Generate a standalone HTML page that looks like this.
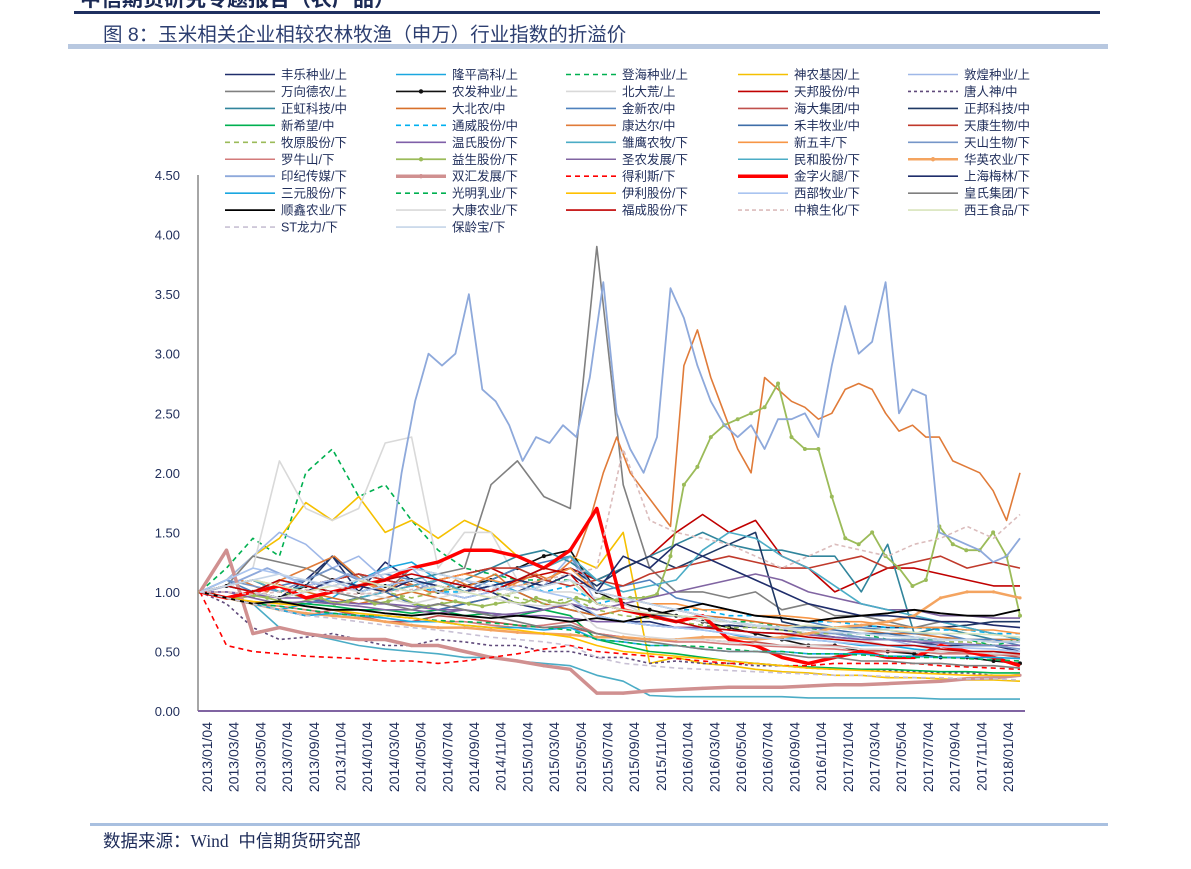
<!DOCTYPE html>
<html><head><meta charset="utf-8">
<style>
body{margin:0;background:#fff;}
#wrap{position:relative;width:1191px;height:869px;overflow:hidden;background:#fff;font-family:"Liberation Sans","Noto Sans CJK SC",sans-serif;}
.hdr{position:absolute;left:80px;top:-17px;font-size:21px;font-weight:bold;color:#1b2a55;}
.title{position:absolute;left:103px;top:18px;font-size:19.5px;color:#2c3e70;}
.src{position:absolute;left:103px;top:828px;font-size:17.5px;color:#1f2d5a;}
</style></head><body>
<div id="wrap">
<div class="hdr">中信期货研究专题报告（农产品）</div>
<div style="position:absolute;left:74px;top:11px;width:1026px;height:3px;background:#1f3060"></div>
<div class="title">图 8：玉米相关企业相较农林牧渔（申万）行业指数的折溢价</div>
<div style="position:absolute;left:68px;top:44px;width:1040px;height:5px;background:#b8c8e0"></div>
<svg id="chart" width="1191" height="869" style="position:absolute;left:0;top:0"></svg>
<div style="position:absolute;left:90px;top:823px;width:1018px;height:3px;background:#a9c0e0"></div>
<div class="src">数据来源：<span style="font-family:'Liberation Serif',serif">Wind</span>&nbsp; 中信期货研究部</div>
</div>
<script>
// ---- data (values spread evenly over 2013/01 .. 2018/02) ----
const yTicks=[0,0.5,1,1.5,2,2.5,3,3.5,4,4.5];
const xTickLabels=["2013/01/04","2013/03/04","2013/05/04","2013/07/04","2013/09/04","2013/11/04","2014/01/04","2014/03/04","2014/05/04","2014/07/04","2014/09/04","2014/11/04","2015/01/04","2015/03/04","2015/05/04","2015/07/04","2015/09/04","2015/11/04","2016/01/04","2016/03/04","2016/05/04","2016/07/04","2016/09/04","2016/11/04","2017/01/04","2017/03/04","2017/05/04","2017/07/04","2017/09/04","2017/11/04","2018/01/04"];
const seriesNames=["丰乐种业/上","隆平高科/上","登海种业/上","神农基因/上","敦煌种业/上","万向德农/上","农发种业/上","北大荒/上","天邦股份/中","唐人神/中","正虹科技/中","大北农/中","金新农/中","海大集团/中","正邦科技/中","新希望/中","通威股份/中","康达尔/中","禾丰牧业/中","天康生物/中","牧原股份/下","温氏股份/下","雏鹰农牧/下","新五丰/下","天山生物/下","罗牛山/下","益生股份/下","圣农发展/下","民和股份/下","华英农业/下","印纪传媒/下","双汇发展/下","得利斯/下","金字火腿/下","上海梅林/下","三元股份/下","光明乳业/下","伊利股份/下","西部牧业/下","皇氏集团/下","顺鑫农业/下","大康农业/下","福成股份/下","中粮生化/下","西王食品/下","ST龙力/下","保龄宝/下"];
const vFengle=[1.0,1.05,1.0,0.95,1.1,1.3,1.0,1.25,1.1,1.0,0.95,1.0,0.9,0.85,0.9,0.8,0.75,0.75,0.7,0.7,0.72,0.7,0.68,0.65,0.62,0.6,0.6,0.58,0.55,0.55,0.55,0.5];
const vLongping=[1.0,0.95,0.9,0.85,0.9,0.95,1.1,1.2,1.25,1.1,1.05,1.1,1.0,0.9,0.85,0.8,0.75,0.72,0.7,0.68,0.65,0.6,0.62,0.6,0.58,0.55,0.55,0.52,0.5,0.5,0.48,0.5];
const vDenghai=[1.0,1.2,1.45,1.3,2.0,2.2,1.8,1.9,1.6,1.35,1.2,1.15,1.1,1.1,1.1,0.9,0.85,0.8,0.85,0.8,0.75,0.75,0.7,0.7,0.65,0.65,0.6,0.6,0.6,0.6,0.55,0.6];
const vShennong=[1.0,1.1,1.3,1.45,1.75,1.6,1.8,1.5,1.6,1.45,1.6,1.5,1.3,1.2,1.3,1.2,1.5,0.4,0.45,0.4,0.38,0.35,0.33,0.32,0.3,0.3,0.28,0.28,0.27,0.26,0.26,0.25];
const vDunhuang=[1.0,1.1,1.3,1.5,1.4,1.2,1.3,1.1,1.2,1.0,1.1,1.0,1.1,1.05,1.3,0.9,0.85,0.8,0.75,0.8,0.75,0.7,0.7,0.65,0.65,0.6,0.6,0.55,0.55,0.5,0.5,0.5];
const vWanxiang=[1.0,1.05,1.3,1.25,1.2,1.1,1.15,1.0,1.2,1.15,1.2,1.9,2.1,1.8,1.7,3.9,1.9,1.2,1.0,1.0,0.95,1.0,0.85,0.9,0.8,0.8,0.75,0.7,0.75,0.7,0.65,0.6];
const vNongfa=[1.0,1.05,1.0,0.95,1.05,1.1,1.0,1.05,1.1,1.0,1.05,1.1,1.2,1.3,1.35,1.0,0.9,0.85,0.8,0.75,0.7,0.65,0.6,0.55,0.55,0.5,0.5,0.48,0.45,0.45,0.42,0.4];
const vBeidahuang=[1.0,1.1,1.2,2.1,1.7,1.6,1.7,2.25,2.3,1.2,1.5,1.5,1.1,1.0,1.0,0.95,0.9,0.8,0.8,0.75,0.75,0.7,0.7,0.65,0.6,0.6,0.55,0.55,0.5,0.5,0.5,0.5];
const vTianbang=[1.0,1.05,1.1,1.0,1.05,1.1,1.15,1.1,1.05,1.1,1.15,1.2,1.1,1.15,1.2,1.1,1.2,1.3,1.5,1.65,1.5,1.6,1.3,1.2,1.0,1.1,1.2,1.2,1.15,1.1,1.05,1.05];
const vTangrenshen=[1.0,0.9,0.7,0.6,0.62,0.65,0.6,0.55,0.55,0.6,0.58,0.55,0.55,0.5,0.5,0.45,0.45,0.4,0.42,0.4,0.4,0.38,0.38,0.36,0.35,0.35,0.34,0.33,0.32,0.32,0.3,0.3];
const vZhenghong=[1.0,1.05,1.1,1.0,1.05,1.1,1.0,1.05,1.1,1.15,1.1,1.2,1.3,1.35,1.25,1.1,1.2,1.3,1.4,1.5,1.4,1.35,1.35,1.3,1.3,1.0,1.4,0.65,0.7,0.65,0.6,0.6];
const vDabeinong=[1.0,0.95,1.0,1.05,1.0,0.95,0.9,0.95,1.0,0.95,0.9,0.95,1.0,0.9,0.85,0.8,0.85,0.8,0.85,0.8,0.78,0.75,0.72,0.7,0.7,0.68,0.65,0.65,0.62,0.6,0.6,0.6];
const vJinxinnong=[1.0,1.1,1.0,1.05,1.1,1.2,1.1,1.15,1.1,1.05,1.0,1.1,1.2,1.25,1.3,1.0,1.05,1.1,0.95,0.9,0.85,0.8,0.78,0.75,0.7,0.7,0.68,0.65,0.65,0.6,0.6,0.55];
const vHaida=[1.0,0.95,0.9,0.85,0.8,0.85,0.8,0.75,0.75,0.8,0.78,0.75,0.72,0.7,0.7,0.65,0.62,0.6,0.6,0.6,0.58,0.58,0.55,0.55,0.55,0.52,0.5,0.5,0.5,0.48,0.48,0.45];
const vZhengbang=[1.0,1.05,1.1,1.0,1.05,1.3,1.1,1.0,1.05,1.1,1.0,1.05,1.0,1.1,1.2,1.05,1.2,1.3,1.2,1.3,1.4,1.5,0.75,0.7,0.7,0.72,0.7,0.7,0.7,0.72,0.75,0.75];
const vXinxiwang=[1.0,0.95,0.9,0.92,0.9,0.88,0.85,0.85,0.82,0.85,0.8,0.82,0.8,0.85,0.8,0.6,0.55,0.5,0.48,0.45,0.42,0.4,0.38,0.37,0.36,0.35,0.35,0.34,0.33,0.33,0.32,0.32];
const vTongwei=[1.0,1.05,1.0,1.1,1.05,1.0,1.05,1.1,1.05,1.0,1.0,1.05,1.1,1.0,1.05,0.9,0.95,0.9,0.85,0.85,0.8,0.8,0.78,0.75,0.75,0.72,0.7,0.7,0.68,0.68,0.65,0.65];
const vKangdaer=[1.0,1.02,1.05,1.1,1.05,1.0,1.1,1.15,1.2,1.25,1.3,1.2,1.1,1.05,1.0,1.1,1.05,1.0,1.0,1.1,1.05,1.1,1.15,1.05,1.1,1.15,1.1,1.2,1.3,1.6,2.0,2.3,2.0,1.85,1.7,1.55,2.9,3.2,2.8,2.5,2.2,2.0,2.8,2.7,2.6,2.55,2.45,2.5,2.7,2.75,2.7,2.5,2.35,2.4,2.3,2.3,2.1,2.05,2.0,1.85,1.6,2.0];
const vHefeng=[1.0,0.95,1.0,1.05,0.95,0.9,0.95,1.0,0.9,0.85,0.9,0.95,1.0,1.05,1.1,0.9,0.85,0.8,0.8,0.78,0.75,0.72,0.7,0.7,0.68,0.65,0.65,0.62,0.6,0.6,0.58,0.58];
const vTiankang=[1.0,1.05,1.1,1.0,1.05,1.1,1.15,1.1,1.05,1.1,1.15,1.2,1.2,1.1,1.05,1.1,1.05,1.15,1.2,1.25,1.3,1.25,1.2,1.2,1.25,1.3,1.2,1.25,1.3,1.2,1.25,1.2];
const vMuyuan=[1.0,1.05,1.1,1.0,0.95,1.0,1.05,1.0,0.95,1.0,1.05,1.0,0.95,0.9,0.95,0.85,0.8,0.78,0.75,0.72,0.7,0.7,0.68,0.65,0.65,0.62,0.6,0.6,0.58,0.58,0.55,0.55];
const vWenshi=[1.0,1.0,0.98,0.95,0.95,0.92,0.9,0.9,0.88,0.85,0.85,0.82,0.8,0.8,0.78,0.75,0.75,0.72,0.7,0.7,0.68,0.66,0.65,0.64,0.62,0.6,0.6,0.58,0.57,0.56,0.55,0.55];
const vChuying=[1.0,0.95,0.9,0.7,0.65,0.6,0.55,0.52,0.5,0.48,0.45,0.45,0.42,0.4,0.38,0.3,0.25,0.13,0.12,0.12,0.12,0.12,0.12,0.11,0.11,0.11,0.11,0.11,0.1,0.1,0.1,0.1];
const vXinwufeng=[1.0,1.05,1.1,1.05,1.0,1.05,1.1,1.0,1.05,1.1,1.15,1.1,1.05,1.1,1.2,1.0,0.95,0.9,0.9,0.85,0.85,0.8,0.8,0.78,0.75,0.75,0.72,0.7,0.7,0.68,0.68,0.65];
const vTianshan=[1.0,1.1,1.05,1.0,1.1,1.2,1.1,1.05,1.0,1.1,1.05,1.0,1.1,1.2,1.3,1.0,0.95,0.9,0.85,0.8,0.75,0.72,0.7,0.68,0.65,0.62,0.6,0.6,0.58,0.55,0.55,0.52];
const vLuoniushan=[1.0,0.95,0.9,0.88,0.85,0.82,0.8,0.8,0.78,0.75,0.75,0.72,0.7,0.72,0.75,0.65,0.62,0.6,0.58,0.58,0.56,0.55,0.54,0.53,0.52,0.5,0.5,0.5,0.48,0.48,0.47,0.47];
const vYisheng=[1.0,0.98,0.95,0.95,0.97,0.95,0.92,0.9,0.93,0.95,0.9,0.92,0.95,0.9,0.92,0.95,0.9,0.88,0.9,0.92,0.9,0.88,0.9,0.92,0.9,0.95,0.92,0.9,0.95,0.92,0.95,0.93,0.95,0.95,0.98,1.3,1.9,2.05,2.3,2.4,2.45,2.5,2.55,2.75,2.3,2.2,2.2,1.8,1.45,1.4,1.5,1.3,1.2,1.05,1.1,1.55,1.4,1.35,1.35,1.5,1.3,0.8];
const vShengnong=[1.0,1.0,0.95,0.9,0.92,0.9,0.88,0.85,0.85,0.82,0.85,0.8,0.82,0.85,0.9,0.85,0.9,0.95,1.0,1.05,1.1,1.15,1.1,1.0,0.95,0.9,0.85,0.85,0.8,0.8,0.78,0.78];
const vMinhe=[1.0,1.05,1.1,1.0,1.05,1.0,0.95,1.0,1.05,1.1,1.0,1.05,1.1,1.2,1.3,1.1,1.0,1.05,1.1,1.35,1.5,1.45,1.3,1.2,1.05,0.9,0.85,0.8,0.75,0.7,0.65,0.6];
const vHuaying=[1.0,0.95,0.9,0.85,0.82,0.8,0.78,0.75,0.72,0.7,0.7,0.68,0.66,0.65,0.64,0.62,0.62,0.6,0.6,0.62,0.62,0.6,0.62,0.65,0.7,0.72,0.75,0.8,0.95,1.0,1.0,0.95];
const vYinji=[1.0,1.02,1.05,1.1,1.15,1.2,1.15,1.1,1.1,1.05,1.1,1.15,1.1,1.15,1.2,2.0,2.6,3.0,2.9,3.0,3.5,2.7,2.6,2.4,2.1,2.3,2.25,2.4,2.3,2.8,3.6,2.5,2.2,2.0,2.3,3.55,3.3,2.9,2.6,2.4,2.3,2.4,2.2,2.45,2.45,2.5,2.3,2.9,3.4,3.0,3.1,3.6,2.5,2.7,2.65,1.5,1.45,1.4,1.35,1.25,1.3,1.45];
const vShuanghui=[1.0,1.35,0.65,0.7,0.65,0.62,0.6,0.6,0.55,0.55,0.5,0.45,0.42,0.38,0.35,0.15,0.15,0.17,0.18,0.19,0.2,0.2,0.2,0.21,0.22,0.22,0.23,0.24,0.25,0.27,0.28,0.3];
const vDelisi=[1.0,0.55,0.5,0.48,0.46,0.45,0.44,0.42,0.42,0.4,0.42,0.45,0.48,0.52,0.55,0.5,0.48,0.46,0.44,0.42,0.4,0.4,0.38,0.38,0.4,0.4,0.4,0.4,0.38,0.37,0.36,0.35];
const vJinzi=[1.0,0.95,1.0,1.05,0.95,1.0,1.05,1.1,1.2,1.25,1.35,1.35,1.3,1.2,1.35,1.7,0.85,0.8,0.75,0.8,0.6,0.55,0.45,0.4,0.45,0.5,0.45,0.45,0.55,0.5,0.45,0.38];
const vMeilin=[1.0,1.05,1.0,0.95,1.0,1.1,1.05,1.0,1.1,1.05,1.0,1.05,1.1,1.05,1.15,1.0,1.3,1.2,1.4,1.3,1.2,1.1,1.0,0.9,0.85,0.8,0.8,0.78,0.75,0.75,0.72,0.7];
const vSanyuan=[1.0,0.95,0.9,0.85,0.8,0.82,0.8,0.78,0.75,0.75,0.72,0.7,0.7,0.68,0.7,0.6,0.58,0.55,0.55,0.52,0.5,0.5,0.5,0.48,0.48,0.48,0.46,0.46,0.45,0.45,0.45,0.44];
const vGuangming=[1.0,0.95,0.9,0.88,0.85,0.82,0.8,0.8,0.78,0.76,0.75,0.74,0.72,0.7,0.68,0.6,0.58,0.55,0.55,0.54,0.52,0.5,0.5,0.48,0.48,0.47,0.46,0.45,0.45,0.44,0.43,0.42];
const vYili=[1.0,0.95,0.92,0.9,0.88,0.85,0.82,0.8,0.78,0.75,0.72,0.7,0.68,0.65,0.62,0.55,0.5,0.48,0.46,0.44,0.42,0.4,0.38,0.36,0.35,0.34,0.33,0.32,0.31,0.3,0.3,0.3];
const vXibu=[1.0,1.1,1.2,1.15,1.05,1.1,1.0,1.05,1.1,1.0,0.95,1.0,1.05,1.0,0.95,0.8,0.75,0.72,0.7,0.68,0.65,0.62,0.6,0.6,0.58,0.56,0.55,0.55,0.54,0.53,0.52,0.5];
const vHuangshi=[1.0,1.05,1.0,1.1,1.05,1.0,0.95,0.9,0.85,0.9,0.85,0.8,0.75,0.7,0.72,0.65,0.6,0.58,0.55,0.52,0.5,0.5,0.48,0.45,0.45,0.42,0.42,0.4,0.4,0.38,0.38,0.36];
const vShunxin=[1.0,0.95,0.9,0.92,0.88,0.85,0.85,0.82,0.8,0.82,0.8,0.78,0.8,0.78,0.75,0.78,0.75,0.8,0.85,0.9,0.85,0.8,0.78,0.75,0.78,0.8,0.82,0.85,0.82,0.8,0.8,0.85];
const vDakang=[1.0,1.05,1.0,0.95,1.0,1.05,1.0,0.95,0.9,0.95,1.0,0.95,0.9,0.88,0.9,0.7,0.65,0.62,0.6,0.6,0.58,0.56,0.55,0.55,0.54,0.52,0.52,0.5,0.5,0.5,0.48,0.48];
const vFucheng=[1.0,1.05,1.0,1.1,1.05,1.0,1.05,1.1,1.15,1.1,1.05,1.0,1.1,1.2,1.15,0.9,0.85,0.8,0.75,0.7,0.68,0.66,0.65,0.62,0.6,0.58,0.55,0.55,0.52,0.5,0.5,0.48];
const vZhongliang=[1.0,1.0,0.98,1.0,1.02,1.0,0.98,1.0,1.02,1.05,1.0,1.02,1.05,1.1,1.15,1.2,2.2,1.6,1.5,1.45,1.4,1.3,1.2,1.3,1.4,1.35,1.3,1.4,1.45,1.55,1.45,1.65];
const vXiwang=[1.0,1.05,1.1,1.05,1.0,1.05,1.1,1.05,1.0,1.05,1.0,0.95,1.0,1.05,1.1,0.9,0.85,0.82,0.8,0.78,0.75,0.72,0.7,0.72,0.7,0.68,0.68,0.66,0.65,0.65,0.64,0.62];
const vLongli=[1.0,0.95,0.9,0.85,0.8,0.78,0.75,0.72,0.7,0.68,0.65,0.62,0.6,0.58,0.55,0.45,0.4,0.38,0.36,0.35,0.34,0.33,0.32,0.31,0.3,0.3,0.29,0.28,0.28,0.27,0.27,0.26];
const vBaolingbao=[1.0,1.05,1.1,1.15,1.1,1.05,1.1,1.15,1.2,1.15,1.1,1.05,1.0,1.05,1.1,1.0,0.95,0.9,0.85,0.8,0.75,0.72,0.7,0.68,0.66,0.65,0.63,0.62,0.6,0.6,0.58,0.58];
const seriesValues=[vFengle,vLongping,vDenghai,vShennong,vDunhuang,vWanxiang,vNongfa,vBeidahuang,vTianbang,vTangrenshen,vZhenghong,vDabeinong,vJinxinnong,vHaida,vZhengbang,vXinxiwang,vTongwei,vKangdaer,vHefeng,vTiankang,vMuyuan,vWenshi,vChuying,vXinwufeng,vTianshan,vLuoniushan,vYisheng,vShengnong,vMinhe,vHuaying,vYinji,vShuanghui,vDelisi,vJinzi,vMeilin,vSanyuan,vGuangming,vYili,vXibu,vHuangshi,vShunxin,vDakang,vFucheng,vZhongliang,vXiwang,vLongli,vBaolingbao];

// ---- styles: [color, width, dash, marker] ----
const styles=[["#1f2d6b",1.6,"",0],["#1aa7e0",1.6,"",0],["#00b050",1.6,"5,4",0],["#f5c000",1.6,"",0],["#9fb8e8",1.6,"",0],
["#808080",1.6,"",0],["#111111",1.6,"",1],["#d9d9d9",1.6,"",0],["#c00000",1.6,"",0],["#604a7b",1.6,"3,3",0],
["#31859c",1.6,"",0],["#d8702a",1.6,"",0],["#4f81bd",1.6,"",0],["#c0504d",1.6,"",0],["#1f3864",1.6,"",0],
["#00b050",1.6,"",0],["#00b0f0",1.6,"5,4",0],["#e07b39",1.6,"",0],["#3e6ea8",1.6,"",0],["#c0392b",1.6,"",0],
["#9bbb59",1.6,"5,4",0],["#7f5fa8",1.6,"",0],["#4bacc6",1.6,"",0],["#f79646",1.6,"",0],["#7596c8",1.6,"",0],
["#d37a7a",1.6,"",0],["#9bbb59",1.8,"",1],["#8064a2",1.6,"",0],["#4bacc6",1.6,"",0],["#f4a460",2.5,"",1],
["#8ea9db",1.8,"",0],["#d09090",3.5,"",1],["#ff0000",1.6,"5,4",0],["#ff0000",3.5,"",0],["#1f2d6b",1.6,"",0],
["#1aa7e0",1.6,"",0],["#00b050",1.6,"5,4",0],["#ffc000",1.6,"",0],["#a9c4f0",1.6,"",0],["#7f7f7f",1.6,"",0],
["#000000",1.8,"",0],["#d9d9d9",1.6,"",0],["#c00000",1.6,"",0],["#dbbcbc",1.6,"4,3",0],["#d8e4bc",1.6,"",0],
["#c8c0d4",1.6,"5,4",0],["#c5d5e8",1.6,"",0]];

const NS="http://www.w3.org/2000/svg";
const svg=document.getElementById('chart');
const X0=200,X1=1020,Y0=711,YPER=119.1;
function xs(i,n){return X0+(X1-X0)*i/(n-1);}
function ys(v){return Y0-v*YPER;}
function mk(tag,attrs){const e=document.createElementNS(NS,tag);for(const k in attrs)e.setAttribute(k,attrs[k]);svg.appendChild(e);return e;}

// axes
let ax=mk('line',{x1:198,y1:175,x2:198,y2:711,stroke:'#a6a6a6','stroke-width':2});


yTicks.forEach(t=>{
  const tx=mk('text',{x:180,y:ys(t)+5,'text-anchor':'end','font-size':13,fill:'#1f2d5a','font-family':'Liberation Sans, sans-serif'});
  tx.textContent=t.toFixed(2);
  
  
});
xTickLabels.forEach((lab,i)=>{
  const x=207+i*26.7;
  const tx=mk('text',{x:0,y:0,transform:`translate(${x+5},722) rotate(-90)`,'text-anchor':'end','font-size':14,fill:'#1f2d5a','font-family':'Liberation Sans, sans-serif'});
  tx.textContent=lab;
  
  
});

// series
seriesValues.forEach((vals,si)=>{
  const st=styles[si];const n=vals.length;
  const pts=vals.map((v,i)=>xs(i,n).toFixed(1)+','+ys(v).toFixed(1)).join(' ');
  const pl=mk('polyline',{points:pts,fill:'none',stroke:st[0],'stroke-width':st[1],'stroke-linejoin':'round'});
  if(st[2])pl.setAttribute('stroke-dasharray',st[2]);
  
  
  if(st[3]){vals.forEach((v,i)=>{const c=mk('circle',{cx:xs(i,n),cy:ys(v),r:st[1]>2?1.6:2,fill:st[0]});
    
    });}
});
let bx=mk('line',{x1:198,y1:711,x2:1025,y2:711,stroke:'#8064a2','stroke-width':2});



// legend
const colX=[225,396,566,738,908];
seriesNames.forEach((nm,i)=>{
  const r=Math.floor(i/5),c=i%5;const st=styles[i];
  const x=colX[c],y=74.5+r*16.95;
  const ln=mk('line',{x1:x,y1:y,x2:x+50,y2:y,stroke:st[0],'stroke-width':Math.min(st[1],3.5)});
  if(st[2])ln.setAttribute('stroke-dasharray',st[2]);
  
  
  if(st[3]){const c2=mk('circle',{cx:x+25,cy:y,r:2.2,fill:st[0]});
    
    }
  const tx=mk('text',{x:x+56,y:y+4.5,'font-size':12.5,fill:'#1f2d5a','font-family':'Liberation Sans, Noto Sans CJK SC, sans-serif'});
  tx.textContent=nm;
  
  
});
</script>
</body></html>
